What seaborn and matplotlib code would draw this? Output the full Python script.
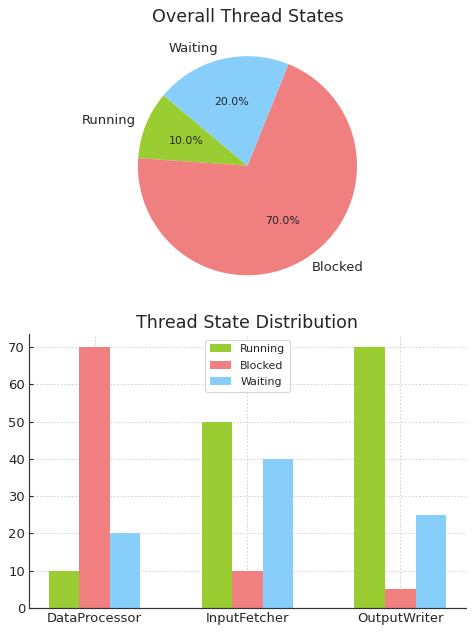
import numpy as np
import pandas as pd
import seaborn as sns
import matplotlib.pyplot as plt

# overall share of each state
states = ["Running", "Blocked", "Waiting"]
overall = [10, 70, 20]

# per-thread counts
threads = ["DataProcessor", "InputFetcher", "OutputWriter"]
running = [10, 50, 70]
blocked = [70, 10, 5]
waiting = [20, 40, 25]

colors = {"Running": "#9ACD32", "Blocked": "#F08080", "Waiting": "#87CEFA"}

data = pd.DataFrame({
    "Thread": threads * 3,
    "State": ["Running"] * 3 + ["Blocked"] * 3 + ["Waiting"] * 3,
    "Count": running + blocked + waiting,
})

sns.set_theme(style="white")
plt.rcParams["font.family"] = ["DejaVu Sans"]
plt.rcParams["text.color"] = "#262626"
plt.rcParams["axes.labelcolor"] = "#262626"
plt.rcParams["xtick.color"] = "#262626"
plt.rcParams["ytick.color"] = "#262626"

fig = plt.figure(figsize=(6, 634 / 79), dpi=79)
ax1 = fig.add_axes([0.061, 0.5226, 0.922, 0.432])
ax2 = fig.add_axes([0.061, 0.041, 0.922, 0.432])

# pie
wedges, texts, autotexts = ax1.pie(
    overall,
    labels=states,
    colors=[colors[s] for s in states],
    autopct="%1.1f%%",
    startangle=140,
    wedgeprops={"linewidth": 0},
    textprops={"fontsize": 12},
)
for t in autotexts:
    t.set_fontsize(10)
ax1.set_aspect("equal")
ax1.set_title("Overall Thread States", fontsize=16)

# grouped bars
sns.barplot(
    data=data, x="Thread", y="Count", hue="State",
    hue_order=states, palette=colors, width=0.6, gap=0,
    saturation=1, linewidth=0, ax=ax2,
)
ax2.set_axisbelow(True)
ax2.grid(True, axis="both", linestyle=(0, (2, 2)), color="#d0d0d0", linewidth=0.8)
ax2.set_xlim(-0.43, 2.43)
ax2.set_ylim(0, 73.5)
ax2.set_xlabel("")
ax2.set_ylabel("")
ax2.set_title("Thread State Distribution", fontsize=16)
ax2.tick_params(axis="both", direction="in", labelsize=12, length=4, width=1,
                bottom=True, left=True)
for side in ["top", "right"]:
    ax2.spines[side].set_visible(False)
for side in ["left", "bottom"]:
    ax2.spines[side].set_color("#333333")
    ax2.spines[side].set_linewidth(1.1)
ax2.legend(loc="upper center", title=None, fontsize=10, labelspacing=0.6)

fig.savefig("out.png", dpi=79)
